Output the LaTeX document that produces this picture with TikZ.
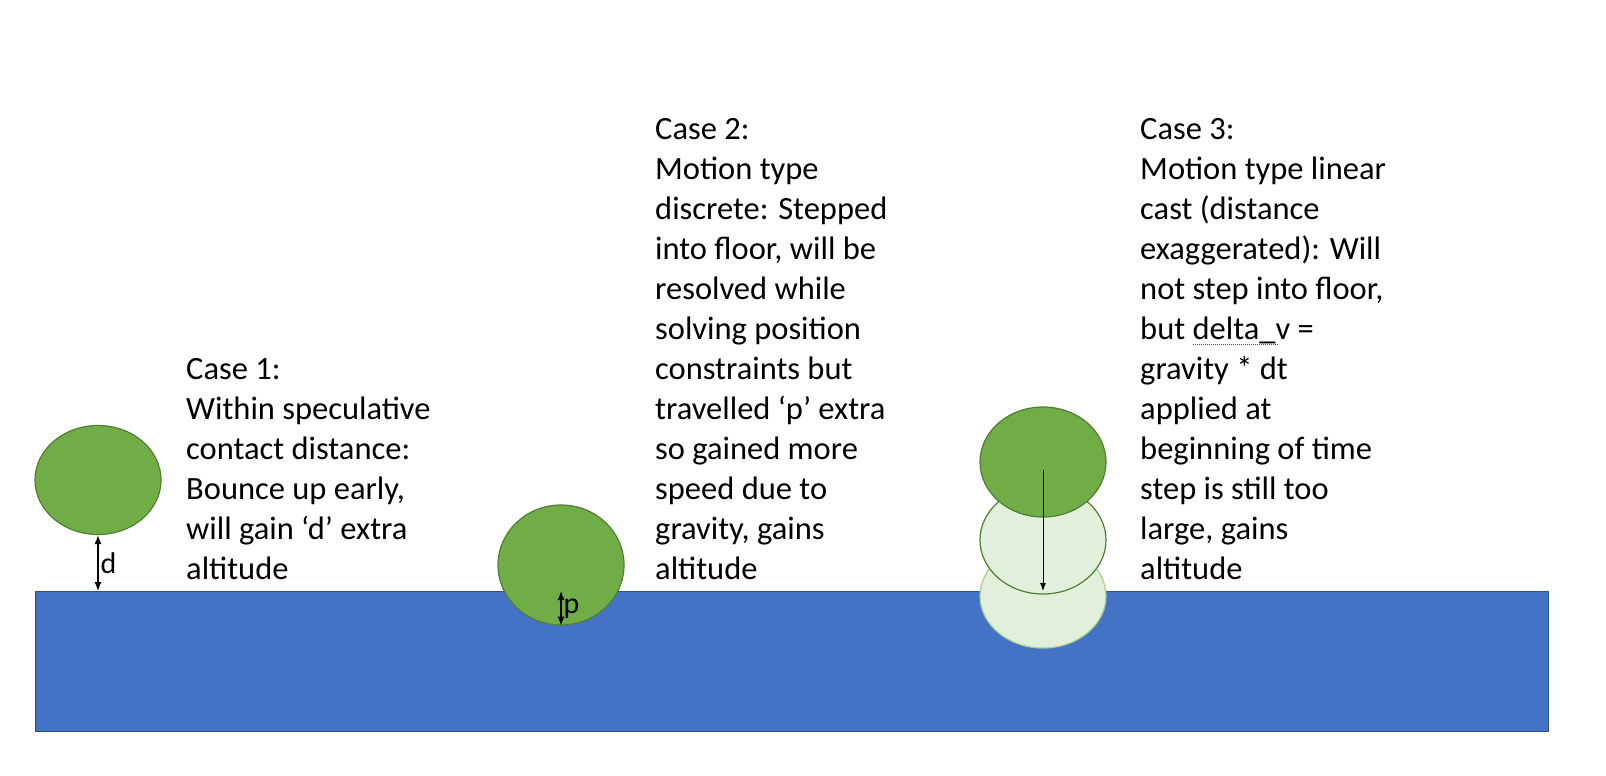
\documentclass[tikz,border=0pt]{standalone}
\usepackage{fontspec}
\setmainfont{Carlito}
\usetikzlibrary{shapes.geometric,arrows.meta}
\begin{document}
\begin{tikzpicture}[x=1pt,y=-1pt,
  txt/.style={anchor=base west,inner sep=0pt,font=\fontsize{32.5}{40}\selectfont},
  ball/.style={fill=ballgreen,draw=balledge,line width=1.2pt},
  ghost/.style={fill=ghostgreen,draw=ghostedge,line width=1.2pt},
  dim/.style={{Latex[length=9pt,width=7pt]}-{Latex[length=9pt,width=7pt]},line width=1.2pt},
  lbl/.style={anchor=west,inner sep=2pt,font=\fontsize{30}{32}\selectfont}]
\definecolor{floorblue}{HTML}{4472C4}
\definecolor{flooredge}{HTML}{2F528F}
\definecolor{ballgreen}{HTML}{70AD47}
\definecolor{balledge}{HTML}{507E32}
\definecolor{ghostgreen}{HTML}{E2EFDA}
\definecolor{ghostedge}{HTML}{A9D18E}
\node[draw=flooredge,fill=floorblue,line width=1.2pt,minimum width=1513pt,minimum height=140pt,inner sep=0pt,anchor=north west] (floor) at (35,591) {};
% case 1
\node[ball,ellipse,minimum width=126pt,minimum height=109pt,inner sep=0pt] (b1) at (98,480) {};
\coordinate (f1) at (98,591);
\draw[dim] (b1.south) -- (f1) node[lbl,midway] {d};
% case 2
\node[ball,ellipse,minimum width=126pt,minimum height=120pt,inner sep=0pt] (b2) at (561,565) {};
\coordinate (f2) at (561,591);
\draw[dim] (f2) -- (b2.south) node[lbl,midway] {p};
% case 3
\node[ghost,ellipse,minimum width=126pt,minimum height=104pt,inner sep=0pt] (g2) at (1043,596) {};
\node[ghost,draw=balledge,ellipse,minimum width=126pt,minimum height=108pt,inner sep=0pt] (g1) at (1043,540) {};
\node[ball,ellipse,minimum width=126pt,minimum height=110pt,inner sep=0pt] (b3) at (1043,462) {};
\coordinate (s3) at (1043,470);
\coordinate (f3) at (1043,591);
\draw[-{Latex[length=8pt,width=6pt]},line width=0.9pt] (s3) -- (f3);
% texts
\node[txt] (c1a) at (186,379) {Case 1:};
\node[txt] (c1b) at (186,419) {Within speculative};
\node[txt] (c1c) at (186,459) {contact distance:};
\node[txt] (c1d) at (186,499) {Bounce up early,};
\node[txt] (c1e) at (186,539) {will gain ‘d’ extra};
\node[txt] (c1f) at (186,579) {altitude};
\node[txt] (c2a) at (655,139) {Case 2:};
\node[txt] (c2b) at (655,179) {Motion type};
\node[txt] (c2c) at (655,219) {discrete: Stepped};
\node[txt] (c2d) at (655,259) {into floor, will be};
\node[txt] (c2e) at (655,299) {resolved while};
\node[txt] (c2f) at (655,339) {solving position};
\node[txt] (c2g) at (655,379) {constraints but};
\node[txt] (c2h) at (655,419) {travelled ‘p’ extra};
\node[txt] (c2i) at (655,459) {so gained more};
\node[txt] (c2j) at (655,499) {speed due to};
\node[txt] (c2k) at (655,539) {gravity, gains};
\node[txt] (c2l) at (655,579) {altitude};
\node[txt] (c3a) at (1140,139) {Case 3:};
\node[txt] (c3b) at (1140,179) {Motion type linear};
\node[txt] (c3c) at (1140,219) {cast (distance};
\node[txt] (c3d) at (1140,259) {exaggerated): Will};
\node[txt] (c3e) at (1140,299) {not step into floor,};
\node[txt] (c3f) at (1140,339) {but delta\_v =};
\node[txt] (c3g) at (1140,379) {gravity * dt};
\node[txt] (c3h) at (1140,419) {applied at};
\node[txt] (c3i) at (1140,459) {beginning of time};
\node[txt] (c3j) at (1140,499) {step is still too};
\node[txt] (c3k) at (1140,539) {large, gains};
\node[txt] (c3l) at (1140,579) {altitude};
\draw[red,densely dotted,line width=1pt] (1193,344) -- (1278,344);
\pgfresetboundingbox
\useasboundingbox (0,0) rectangle (1606,776);
\end{tikzpicture}
\end{document}
